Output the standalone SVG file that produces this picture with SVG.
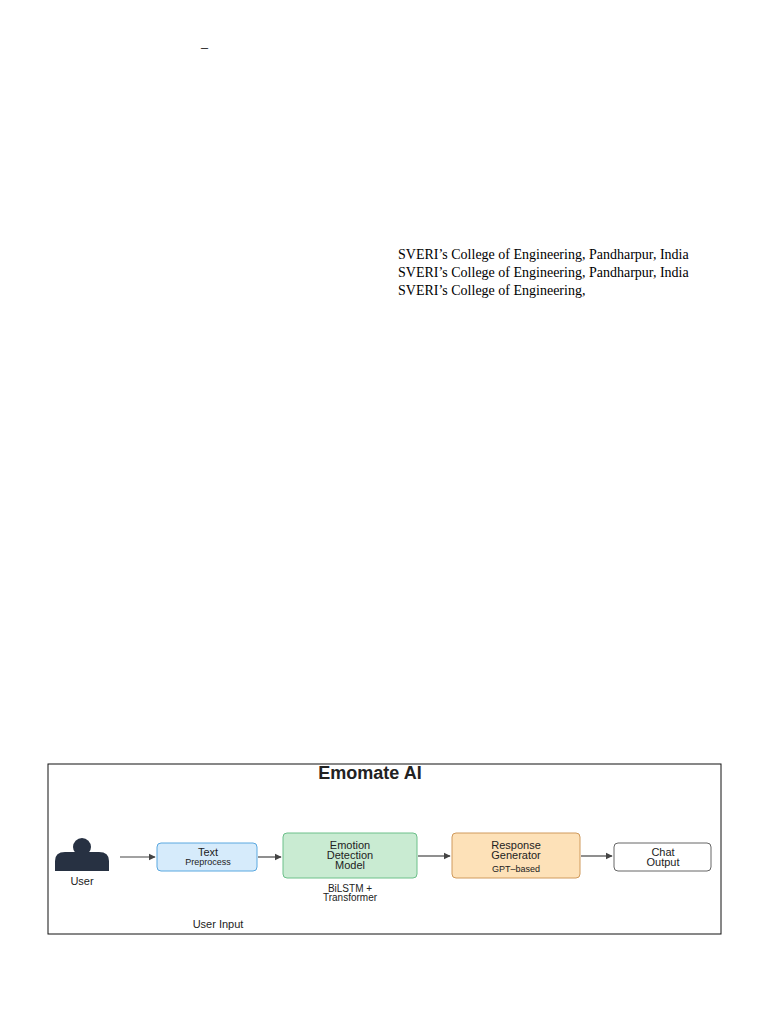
<svg xmlns="http://www.w3.org/2000/svg" width="768" height="1024" viewBox="0 0 768 1024">
<style>
.t{font-family:"Liberation Serif",serif;font-size:14px;fill:#000}
.s{font-family:"Liberation Sans",Arial,sans-serif;fill:#222;text-anchor:middle;font-weight:bold}
.c{stroke:#444;stroke-width:1.2;fill:none;marker-end:url(#a)}
</style>
<defs><marker id="a" viewBox="0 0 10 10" refX="9" refY="5" markerWidth="6" markerHeight="6" orient="auto"><path d="M0,0L10,5L0,10z" fill="#444"/></marker></defs>
<rect width="768" height="1024" fill="#fff"/>
<text x="201" y="52" class="t">–</text>
<text x="398" y="259" class="t">SVERI’s College of Engineering, Pandharpur, India</text>
<text x="398" y="277" class="t">SVERI’s College of Engineering, Pandharpur, India</text>
<text x="398" y="295" class="t">SVERI’s College of Engineering,</text>
<rect x="48" y="764" width="673" height="170" fill="#fff" stroke="#111" stroke-width="1"/>
<text x="370" y="779" class="s" style="font-size:18px">Emomate AI</text>
<g id="user"><circle cx="82" cy="847" r="9" fill="#273142"/><path d="M55,871v-10q0-9 10-9h34q10 0 10 9v10z" fill="#273142"/>
<text x="82" y="885" class="s" style="font-size:11px;font-weight:normal">User</text></g>
<g id="pre"><rect x="157" y="843" width="100" height="28" rx="4" fill="#d6ebfb" stroke="#5aa8e0"/>
<text x="208" y="856" class="s" style="font-size:11px;font-weight:normal">Text</text>
<text x="208" y="865" class="s" style="font-size:9px;font-weight:normal">Preprocess</text></g>
<g id="emo"><rect x="283" y="833" width="134" height="45" rx="4" fill="#c9ebd2" stroke="#6cc08a"/>
<text x="350" y="849" class="s" style="font-size:11px;font-weight:normal">Emotion</text>
<text x="350" y="859" class="s" style="font-size:11px;font-weight:normal">Detection</text>
<text x="350" y="869" class="s" style="font-size:11px;font-weight:normal">Model</text>
<text x="350" y="892" class="s" style="font-size:10px;font-weight:normal">BiLSTM +</text>
<text x="350" y="901" class="s" style="font-size:10px;font-weight:normal">Transformer</text></g>
<g id="resp"><rect x="452" y="833" width="128" height="45" rx="4" fill="#fde1b8" stroke="#d09a5c"/>
<text x="516" y="849" class="s" style="font-size:11px;font-weight:normal">Response</text>
<text x="516" y="859" class="s" style="font-size:11px;font-weight:normal">Generator</text>
<text x="516" y="872" class="s" style="font-size:9px;font-weight:normal">GPT–based</text></g>
<g id="out"><rect x="614" y="843" width="97" height="28" rx="4" fill="#fff" stroke="#666"/>
<text x="663" y="856" class="s" style="font-size:11px;font-weight:normal">Chat</text>
<text x="663" y="866" class="s" style="font-size:11px;font-weight:normal">Output</text></g>
<text x="218" y="928" class="s" style="font-size:11px;font-weight:normal">User Input</text>
<g id="connectors">
<line x1="120" y1="857" x2="155" y2="857" class="c"/>
<line x1="258" y1="857" x2="281" y2="857" class="c"/>
<line x1="418" y1="856" x2="450" y2="856" class="c"/>
<line x1="581" y1="856" x2="612" y2="856" class="c"/>
</g>
</svg>
